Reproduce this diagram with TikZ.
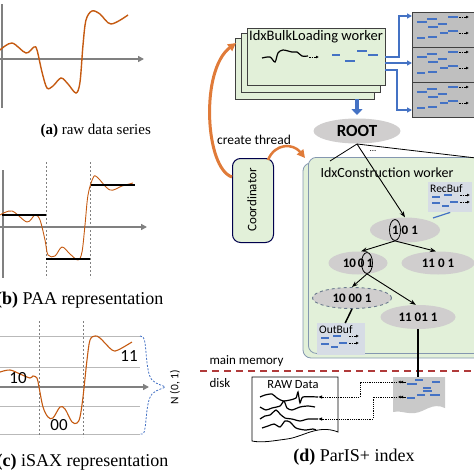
\documentclass[tikz,border=0pt]{standalone}
\usepackage{fontspec}
\setmainfont{Liberation Serif}
\newfontfamily\carl{Carlito}
\usetikzlibrary{shapes.geometric,arrows.meta,calc}
\definecolor{orng}{HTML}{C55A11}
\definecolor{orarrow}{HTML}{E07B39}
\definecolor{lgreen}{HTML}{E2F0D9}
\definecolor{bblue}{HTML}{4472C4}
\definecolor{ngray}{HTML}{D0CECE}
\definecolor{boxgray}{HTML}{BFBFBF}
\definecolor{bufblue}{HTML}{D6DCE5}
\definecolor{memred}{HTML}{B03A3A}
\definecolor{wborder}{HTML}{8497B0}
\newcommand\gbfill{%
  \foreach \a/\b/\c in {5/10/15, 15/7/25, 16/15/26, 26/12/35, 36/5/46, 36/19/46, 5/26/13, 16/25/25, 28/21/36}{\draw[bluedash] (\a,\b) -- (\c,\b);}
  \draw[minarrow] (47,5) -- (57,5);
  \draw[minarrow] (47,21) -- (57,21);}
\newcommand\buffill{%
  \foreach \a/\b/\c in {4/15/12, 16/13/24, 4/21/12, 14/24/21, 22/20/30}{\draw[bluedash] (\a,\b) -- (\c,\b);}
  \draw[minarrow] (32,13) -- (42,13);
  \draw[minarrow] (32,20) -- (42,20);}
\begin{document}
\begin{tikzpicture}[x=1pt,y=-1pt,
  axisarrow/.style={draw=gray, line width=1.6pt, -{Triangle[length=6pt,width=6pt]}},
  vaxis/.style={draw=gray, line width=2.2pt},
  series/.style={draw=orng, line width=1.4pt},
  thinseries/.style={draw=orng, line width=0.9pt},
  gridl/.style={draw=gray!55, line width=0.8pt},
  sepl/.style={draw=gray, line width=0.6pt, dash pattern=on 2pt off 2pt},
  paa/.style={draw=black, line width=1.8pt},
  bluedash/.style={draw=bblue, line width=1.1pt},
  minarrow/.style={draw=black, line width=0.7pt, dash pattern=on 1.5pt off 1pt, -{Latex[length=3pt,width=3pt]}},
  treenode/.style={ellipse, fill=ngray, inner sep=0pt, font=\carl\bfseries\fontsize{13}{13}\selectfont},
  digitring/.style={ellipse, draw=black, line width=0.8pt, minimum width=11pt, minimum height=21pt, inner sep=0pt},
  treeedge/.style={draw=black, line width=0.9pt, -{Stealth[length=6pt,width=4.5pt]}},
  worker/.style={draw=black!75, line width=0.8pt, fill=lgreen},
  lbl/.style={font=\carl\fontsize{13.5}{14}\selectfont},
  bluecon/.style={draw=bblue, line width=1.5pt, -{Triangle[length=5pt,width=5pt]}},
  orcon/.style={draw=orarrow, line width=3pt, -{Triangle[length=8pt,width=8pt]}},
  capt/.style={font=\fontsize{18}{18}\selectfont}
]
\useasboundingbox (0,0) rectangle (474,474);

% ---------------- panel (a)
\draw[vaxis] (2,4) -- (2,108);
\draw[axisarrow] (0,59) -- (144,59);
\draw[series] plot[smooth,tension=0.55] coordinates {(0,50) (12,43) (26,53) (34,47) (37,50) (42,72) (47,88) (53,86) (61,78) (68,84) (76,93) (80,82) (83,45) (86,20) (92,11) (100,14) (111,24) (128,15)};
\node[anchor=west, font=\fontsize{15}{15}\selectfont] (capa) at (37,131) {\textbf{(a)} raw data series};

% ---------------- panel (b)
\draw[vaxis] (3,170) -- (3,278);
\draw[sepl] (46,162) -- (46,278);
\draw[sepl] (90,162) -- (90,278);
\draw[axisarrow] (0,227) -- (147,227);
\draw[thinseries] plot[smooth,tension=0.55] coordinates {(0,215) (12,211) (27,222) (35,215) (40,220) (45,240) (48,255) (55,256) (62,247) (70,254) (78,260) (82,252) (85,225) (88,195) (93,178) (97,177) (110,190) (122,186) (133,183)};
\draw[paa] (2,215) -- (46,215);
\draw[paa] (46,259) -- (90,259);
\draw[paa] (91,185) -- (135,185);
\node[anchor=east, capt] (capb) at (167,300) {\textbf{(b)} PAA representation};

% ---------------- panel (c)
\foreach \yy in {336,367,406,434} {\draw[gridl] (0,\yy) -- (140,\yy);}
\draw[sepl] (39,321) -- (39,437);
\draw[sepl] (83,321) -- (83,437);
\draw[axisarrow] (0,387) -- (149,387);
\draw[series, line width=1.1pt] plot[smooth,tension=0.55] coordinates {(0,372) (10,370) (20,374) (30,378) (33,376) (37,378) (39,387) (43,407) (48,417) (53,418) (60,407) (65,409) (72,422) (77,423) (80,417) (83,397) (87,360) (90,340) (95,336) (100,338) (112,350) (118,350) (132,342)};
\node[font=\carl\fontsize{17}{17}\selectfont] (s10) at (18,378) {10};
\node[font=\carl\fontsize{17}{17}\selectfont] (s00) at (59,425) {00};
\node[font=\carl\fontsize{17}{17}\selectfont] (s11) at (129,356) {11};
\draw[bblue, line width=0.8pt, dash pattern=on 2pt off 1.5pt] (140,336) -- (143,337) .. controls (147,340) and (145,372) .. (152,380) .. controls (157,385) and (163,385) .. (165,387) .. controls (163,389) and (157,389) .. (152,394) .. controls (145,402) and (147,431) .. (143,434) -- (140,434);
\node[rotate=90, font=\carl\fontsize{11.5}{12}\selectfont] (nd) at (175,387) {N (0, 1)};
\node[anchor=east, capt] (capc) at (172,462) {\textbf{(c)} iSAX representation};

% ---------------- panel (d): bulk loading
\draw[worker] (235,38) rectangle (374,99);
\draw[worker] (241,33) rectangle (380,92);
\node[worker, anchor=north west, minimum width=138pt, minimum height=57pt, inner sep=0pt] (bulk) at (247,28) {};
\node[font=\carl\fontsize{14.5}{15}\selectfont] (bulktxt) at (316,37) {IdxBulkLoading worker};
\draw[black, line width=1.2pt] plot[smooth,tension=0.5] coordinates {(262,58) (270,57) (275,62) (278,53) (283,50) (292,52) (297,52) (302,56) (308,56)};
\draw[minarrow] (309,57) -- (319,57);
\draw[bluedash] (332,55) -- (340,55);
\draw[bluedash] (345,61) -- (355,61);
\draw[bluedash] (357,51) -- (367,51);
\draw[bluedash] (368,55) -- (378,55);

% gray buffers top right
\node[draw=black!75, fill=boxgray, line width=0.8pt, anchor=north west, minimum width=62pt, minimum height=35pt, inner sep=0pt] (g1) at (412,12) {};
\node[draw=black!75, fill=boxgray, line width=0.8pt, anchor=north west, minimum width=62pt, minimum height=35pt, inner sep=0pt] (g2) at (412,47) {};
\node[draw=black!75, fill=boxgray, line width=0.8pt, anchor=north west, minimum width=62pt, minimum height=35pt, inner sep=0pt] (g3) at (412,82) {};
\begin{scope}[shift={(412,12)}]\gbfill\end{scope}
\begin{scope}[shift={(412,47)}]\gbfill\end{scope}
\begin{scope}[shift={(412,82)}]\gbfill\end{scope}
\draw[bluecon] (385,57) -- (399,57) |- (g1.west |- 0,16);
\draw[bluecon] (385,63) -- (g2.west |- 0,63);
\draw[bluecon] (385,70) -- (397,70) |- (g3.west |- 0,110);

% ROOT
\node[treenode, minimum width=87pt, minimum height=25pt, font=\carl\bfseries\fontsize{17}{17}\selectfont] (root) at (357,131) {ROOT};
\draw[draw=bblue, line width=4pt, -{Triangle[length=6pt,width=11pt]}] (357,99) -- (357,115);

% construction worker box
\draw[draw=wborder, line width=0.8pt, fill=lgreen, rounded corners=8pt] (303,163) rectangle (482,358);
\node[draw=wborder, line width=0.8pt, fill=lgreen, rounded corners=8pt, anchor=north west, minimum width=178pt, minimum height=196pt, inner sep=0pt] (cons) at (308,157) {};
\node[font=\carl\fontsize{14}{14}\selectfont] (constxt) at (387,173) {IdxConstruction worker};

% coordinator
\node[draw=black!70!blue, fill=lgreen, line width=1pt, rounded corners=8pt, anchor=north west, minimum width=41pt, minimum height=84pt, inner sep=0pt] (coord) at (232,158) {};
\node[rotate=90, font=\carl\fontsize{13}{13}\selectfont] (coordtxt) at (252,200) {Coordinator};
\node[lbl] (ct) at (254,140) {create thread};
\draw[orcon] (232,177) .. controls (205,168) and (200,70) .. (236,43);
\draw[orcon, line width=2.5pt] (268,160) .. controls (275,143) and (293,143) .. (305,158);

% tree
\coordinate (rootpt) at (357,144);
\coordinate (leftsub) at (330,161);
\coordinate (rightsub) at (476,158);
\draw[black, line width=0.8pt] (rootpt) -- (leftsub);
\draw[black, line width=0.8pt] (rootpt) -- (rightsub);
\node[font=\carl\fontsize{9}{9}\selectfont] (dots) at (373,151) {...};

\node[treenode, minimum width=70pt, minimum height=25pt] (n101) at (405,230) {1\hspace{3pt}0 1};
\node[treenode, minimum width=59pt, minimum height=23pt] (n1001) at (358,263) {10\hspace{2pt}0\hspace{2pt}1};
\node[treenode, minimum width=73pt, minimum height=23pt] (n1101) at (438,263) {11 0 1};
\node[treenode, draw=wborder!80!black, dashed, line width=0.9pt, minimum width=79pt, minimum height=21pt] (n10001) at (352,298) {10 00 1};
\node[treenode, minimum width=75pt, minimum height=24pt] (n11011) at (418,317) {11 01 1};
\node[digitring] (c101) at (395,230) {};
\node[digitring] (c1001) at (367,263) {};

\draw[treeedge] (rootpt) -- (n101.north);
\draw[treeedge] (c101.south) -- (n1001.75);
\draw[treeedge] (c101.south) -- (n1101.100);
\draw[treeedge] (c1001.south) -- (n10001.north);
\draw[treeedge] (c1001.south) -- (n11011.100);

% RecBuf
\node[fill=bufblue, anchor=north west, minimum width=44pt, minimum height=30pt, inner sep=0pt] (recbuf) at (428,182) {};
\node[anchor=west, font=\carl\fontsize{11.5}{12}\selectfont, inner sep=0pt] (rbt) at (430,189) {RecBuf};
\begin{scope}[shift={(428,182)}]\buffill\end{scope}
\draw[bblue, line width=1.2pt] (433,218) -- (recbuf.south);

% OutBuf
\node[fill=bufblue, anchor=north west, minimum width=48pt, minimum height=32pt, inner sep=0pt] (outbuf) at (317,323) {};
\node[anchor=west, font=\carl\fontsize{11.5}{12}\selectfont, inner sep=0pt] (obt) at (319,330) {OutBuf};
\begin{scope}[shift={(317,323)}]\buffill\end{scope}
\draw[black, line width=1.5pt] (n10001.south) -- ($(outbuf.north)+(4,0)$);

% memory / disk separator
\coordinate (sepL) at (200,371);
\coordinate (sepR) at (474,371);
\draw[memred, line width=2pt, dash pattern=on 7pt off 5pt] (sepL) -- (sepR);
\node[lbl, anchor=west, font=\carl\fontsize{13}{13}\selectfont] (mm) at (206,361) {main memory};
\node[lbl, anchor=west, font=\carl\fontsize{13}{13}\selectfont] (dk) at (206,383) {disk};

% gray doc on disk
\coordinate (gtop) at (419,377);
\draw[black, line width=1.5pt] (n11011.south) -- (n11011.south |- gtop);
\draw[fill=boxgray!85, draw=none] (393,377) -- (445,377) -- (445,408) .. controls (432,402) and (425,412) .. (415,413) .. controls (405,414) and (400,410) .. (393,412) -- cycle;
\foreach \a/\b/\c in {22/3/30, 14/7/24, 39/5/47, 30/11/38, 30/14/39, 14/21/22, 24/18/32, 37/18/47} {\draw[bluedash] ($(393,377)+(\a,\b)$) -- ($(393,377)+(\c,\b)$);}
\draw[black, line width=0.8pt, -{Latex[length=2.5pt,width=3pt]Latex[length=2.5pt,width=3pt]}] (406,382) -- (398,382);
\draw[black, line width=0.8pt, -{Latex[length=2.5pt,width=3pt]Latex[length=2.5pt,width=3pt]}] (406,397) -- (398,397);

% RAW data doc
\draw[fill=white, draw=black, line width=0.8pt] (252,377) -- (338,377) -- (338,432) .. controls (318,424) and (303,437) .. (287,439) .. controls (272,441) and (262,443) .. (252,441) -- cycle;
\node[font=\carl\fontsize{12.5}{13}\selectfont] (rawtxt) at (293,385) {RAW Data};
\draw[black, line width=1.2pt] plot[smooth,tension=0.4] coordinates {(260,397) (265,395) (272,394) (277,398) (283,401) (290,400) (296,398) (298,392) (300,403) (303,397) (318,397)};
\draw[black, line width=1.2pt] plot[smooth,tension=0.4] coordinates {(260,407) (266,410) (272,408) (280,406) (284,401) (287,408) (292,410) (300,407) (308,406) (315,407)};
\draw[black, line width=1.2pt] plot[smooth,tension=0.4] coordinates {(260,419) (265,416) (270,415) (276,410) (280,414) (285,418) (292,419) (300,421) (308,419) (318,419)};
\draw[black, line width=1.2pt] plot[smooth,tension=0.4] coordinates {(262,428) (268,426) (274,424) (280,427) (285,421) (290,422) (296,428) (305,430) (313,429) (316,430)};
\coordinate (rawin1) at (318,397);
\coordinate (rawin2) at (318,419);
\draw[black, line width=0.8pt, dash pattern=on 1.2pt off 1pt, -{Latex[length=4pt,width=3.5pt]}] (397,382) -- (360,382) -- (360,397) -- (rawin1);
\draw[black, line width=0.8pt, dash pattern=on 1.2pt off 1pt, -{Latex[length=4pt,width=3.5pt]}] (397,397) -- (373,397) -- (373,419) -- (rawin2);

\node[capt] (capd) at (354,457) {\textbf{(d)} ParIS+ index};
\end{tikzpicture}
\end{document}
